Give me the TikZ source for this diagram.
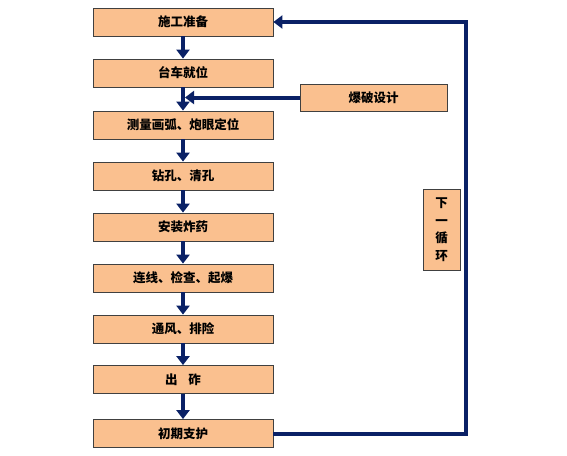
\documentclass[tikz,border=0pt]{standalone}
\usepackage{fontspec}
\setmainfont{Noto Sans CJK SC}
\usetikzlibrary{arrows.meta}
\definecolor{peach}{HTML}{FAC08F}
\definecolor{navy}{HTML}{0A2166}
\definecolor{edge}{HTML}{404040}
\tikzset{
  stepbox/.style={draw=edge, line width=0.8pt, fill=peach, minimum width=180pt, minimum height=28pt, inner sep=0pt, font=\fontsize{12.5}{14}\selectfont\bfseries},
  flow/.style={draw=navy, line width=4pt, -{Triangle[width=13pt,length=9pt]}},
  plain/.style={draw=navy, line width=4pt}
}
\begin{document}
\begin{tikzpicture}[x=1pt,y=-1pt]
\useasboundingbox (0,0) rectangle (567,455);
\node[stepbox] (n1) at (183,22) {施工准备};
\node[stepbox] (n2) at (183,73) {台车就位};
\node[stepbox] (n3) at (183,125) {测量画弧、炮眼定位};
\node[stepbox] (n4) at (183,176) {钻孔、清孔};
\node[stepbox] (n5) at (183,227) {安装炸药};
\node[stepbox] (n6) at (183,278) {连线、检查、起爆};
\node[stepbox] (n7) at (183,329) {通风、排险};
\node[stepbox] (n8) at (183,379.5) {出\hspace{0.85em}砟};
\node[stepbox] (n9) at (183,433.5) {初期支护};
\node[stepbox, minimum width=147pt, minimum height=27pt] (bp) at (373.5,97.5) {爆破设计};
\node[stepbox, minimum width=37pt, minimum height=81pt, align=center, font=\fontsize{12.5}{17.5}\selectfont\bfseries] (xh) at (441.5,229.5) {下\\一\\循\\环};
\coordinate (j) at (185,97.5);
\draw[flow] (n1) -- (n2);
\draw[flow] (n2) -- (n3);
\draw[flow] (n3) -- (n4);
\draw[flow] (n4) -- (n5);
\draw[flow] (n5) -- (n6);
\draw[flow] (n6) -- (n7);
\draw[flow] (n7) -- (n8);
\draw[flow] (n8) -- (n9);
\draw[flow] (bp.west) -- (j);
\draw[flow] (n9.east) -- ++(193,0) |- (n1.east);
\end{tikzpicture}
\end{document}
